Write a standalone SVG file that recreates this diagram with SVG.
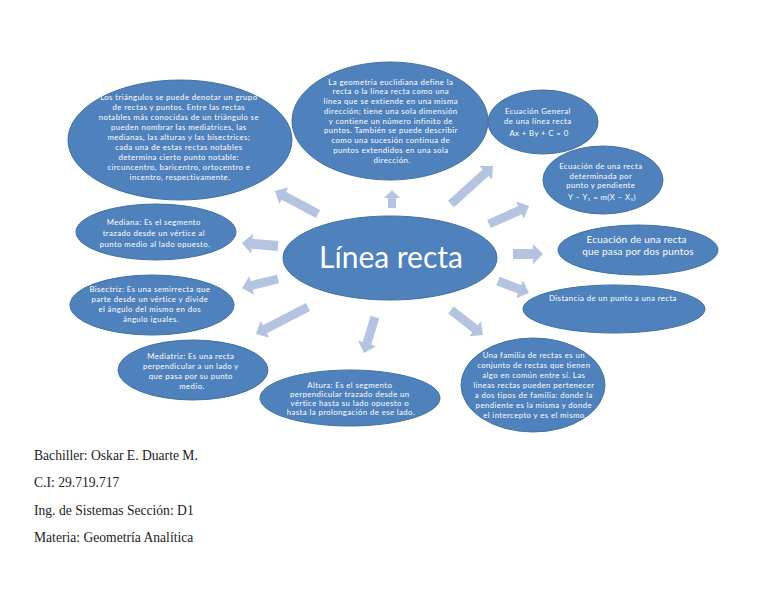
<svg xmlns="http://www.w3.org/2000/svg" width="768" height="594" viewBox="0 0 768 594">
<style>
.n{fill:#4F81BD;stroke:#41719C;stroke-width:1}
.t{font-family:Lato,"Open Sans","Liberation Sans",sans-serif;fill:#fff;text-anchor:middle;font-size:7.8px;letter-spacing:0.4px}
.m{font-size:10px;letter-spacing:0.2px}
.a{fill:#B4C4E0}
.b{font-family:"Liberation Serif","Times New Roman",serif;font-size:13.6px;fill:#222}
</style>
<rect width="768" height="594" fill="#fff"/>
<g id="connectors">
<polygon class="a" transform="translate(318,214) rotate(208.1)" points="0,-4.5 38.8,-4.5 38.8,-9.5 48.8,0 38.8,9.5 38.8,4.5 0,4.5"/>
<polygon class="a" transform="translate(392,208) rotate(-90)" points="0,-4 10,-4 10,-8 18,0 10,8 10,4 0,4"/>
<polygon class="a" transform="translate(451,204) rotate(-42.1)" points="0,-4.5 46.6,-4.5 46.6,-9.5 56.6,0 46.6,9.5 46.6,4.5 0,4.5"/>
<polygon class="a" transform="translate(489,224) rotate(-24.2)" points="0,-4.5 33.9,-4.5 33.9,-9.5 43.9,0 33.9,9.5 33.9,4.5 0,4.5"/>
<polygon class="a" transform="translate(513,254) rotate(0)" points="0,-5 20,-5 20,-10 30,0 20,10 20,5 0,5"/>
<polygon class="a" transform="translate(498,281) rotate(21.2)" points="0,-4.5 23.2,-4.5 23.2,-9.5 33.2,0 23.2,9.5 23.2,4.5 0,4.5"/>
<polygon class="a" transform="translate(451,310) rotate(38)" points="0,-4.5 30.6,-4.5 30.6,-9.5 40.6,0 30.6,9.5 30.6,4.5 0,4.5"/>
<polygon class="a" transform="translate(375,317) rotate(107)" points="0,-4.5 27.6,-4.5 27.6,-9.5 37.6,0 27.6,9.5 27.6,4.5 0,4.5"/>
<polygon class="a" transform="translate(308,307) rotate(152.6)" points="0,-4.5 48.6,-4.5 48.6,-9.5 58.6,0 48.6,9.5 48.6,4.5 0,4.5"/>
<polygon class="a" transform="translate(278,279) rotate(166)" points="0,-4.5 27.1,-4.5 27.1,-9.5 37.1,0 27.1,9.5 27.1,4.5 0,4.5"/>
<polygon class="a" transform="translate(278,246) rotate(184.8)" points="0,-5 26.1,-5 26.1,-10 36.1,0 26.1,10 26.1,5 0,5"/>
</g>
<g id="center">
<ellipse class="n" cx="390" cy="258" rx="107" ry="42"/>
<text class="t" x="391" y="268" style="font-size:30px;letter-spacing:0">Línea recta</text>
</g>
<g id="triangulos">
<ellipse class="n" cx="180" cy="140" rx="112" ry="60"/>
<text class="t">
<tspan x="180" y="99.5">Los triángulos se puede denotar un grupo</tspan>
<tspan x="180" y="109.5">de rectas y puntos. Entre las rectas</tspan>
<tspan x="180" y="119.5">notables más conocidas de un triángulo se</tspan>
<tspan x="180" y="129.5">pueden nombrar las mediatrices, las</tspan>
<tspan x="180" y="139.5">medianas, las alturas y las bisectrices;</tspan>
<tspan x="180" y="149.5">cada una de estas rectas notables</tspan>
<tspan x="180" y="159.5">determina cierto punto notable:</tspan>
<tspan x="180" y="169.5">circuncentro, baricentro, ortocentro e</tspan>
<tspan x="180" y="179.5">incentro, respectivamente.</tspan>
</text>
</g>
<g id="geometria">
<ellipse class="n" cx="390" cy="121" rx="98" ry="59"/>
<text class="t">
<tspan x="392" y="84.5">La geometría euclidiana define la</tspan>
<tspan x="392" y="94.2">recta o la línea recta como una</tspan>
<tspan x="392" y="104">línea que se extiende en una misma</tspan>
<tspan x="392" y="113.7">dirección; tiene una sola dimensión</tspan>
<tspan x="392" y="123.5">y contiene un número infinito de</tspan>
<tspan x="392" y="133.2">puntos. También se puede describir</tspan>
<tspan x="392" y="143">como una sucesión continua de</tspan>
<tspan x="392" y="152.7">puntos extendidos en una sola</tspan>
<tspan x="392" y="162.5">dirección.</tspan>
</text>
</g>
<g id="general">
<ellipse class="n" cx="543" cy="122" rx="55" ry="32"/>
<text class="t">
<tspan x="539" y="113.5">Ecuación General</tspan>
<tspan x="539" y="123.5">de una línea recta</tspan>
<tspan x="539" y="135.5">Ax + By + C = 0</tspan>
</text>
</g>
<g id="pendiente">
<ellipse class="n" cx="603" cy="180" rx="60" ry="34"/>
<text class="t">
<tspan x="602" y="168.5">Ecuación de una recta</tspan>
<tspan x="602" y="178.5">determinada por</tspan>
<tspan x="602" y="188">punto y pendiente</tspan>
<tspan x="602" y="199.5">Y – Y₁ = m(X – X₁)</tspan>
</text>
</g>
<g id="dospuntos">
<ellipse class="n" cx="638" cy="250" rx="80" ry="25"/>
<text class="t m">
<tspan x="638" y="242.5">Ecuación de una recta</tspan>
<tspan x="638" y="254.5">que pasa por dos puntos</tspan>
</text>
</g>
<g id="distancia">
<ellipse class="n" cx="614" cy="309" rx="91" ry="24"/>
<text class="t" x="613" y="300.5">Distancia de un punto a una recta</text>
</g>
<g id="mediana">
<ellipse class="n" cx="156" cy="232" rx="80" ry="28"/>
<text class="t">
<tspan x="155" y="224.5">Mediana: Es el segmento</tspan>
<tspan x="155" y="235.5">trazado desde un vértice al</tspan>
<tspan x="155" y="246.5">punto medio al lado opuesto.</tspan>
</text>
</g>
<g id="bisectriz">
<ellipse class="n" cx="152" cy="305" rx="82" ry="30"/>
<text class="t">
<tspan x="151" y="291.5">Bisectriz: Es una semirrecta que</tspan>
<tspan x="151" y="301.5">parte desde un vértice y divide</tspan>
<tspan x="151" y="311.5">el ángulo del mismo en dos</tspan>
<tspan x="151" y="322">ángulo iguales.</tspan>
</text>
</g>
<g id="mediatriz">
<ellipse class="n" cx="193" cy="370" rx="75" ry="30"/>
<text class="t">
<tspan x="192" y="358.5">Mediatriz: Es una recta</tspan>
<tspan x="192" y="368.5">perpendicular a un lado y</tspan>
<tspan x="192" y="378.5">que pasa por su punto</tspan>
<tspan x="192" y="388.5">medio.</tspan>
</text>
</g>
<g id="altura">
<ellipse class="n" cx="350" cy="398" rx="90" ry="28"/>
<text class="t">
<tspan x="351" y="387.5">Altura: Es el segmento</tspan>
<tspan x="351" y="396.5">perpendicular trazado desde un</tspan>
<tspan x="351" y="405.5">vértice hasta su lado opuesto o</tspan>
<tspan x="351" y="414.5">hasta la prolongación de ese lado.</tspan>
</text>
</g>
<g id="familia">
<ellipse class="n" cx="533" cy="385" rx="72" ry="47"/>
<text class="t">
<tspan x="535" y="357.5">Una familia de rectas es un</tspan>
<tspan x="535" y="367.5">conjunto de rectas que tienen</tspan>
<tspan x="535" y="377.5">algo en común entre sí. Las</tspan>
<tspan x="535" y="387.5">líneas rectas pueden pertenecer</tspan>
<tspan x="535" y="397.5">a dos tipos de familia: donde la</tspan>
<tspan x="535" y="407.5">pendiente es la misma y donde</tspan>
<tspan x="535" y="417.5">el intercepto y es el mismo.</tspan>
</text>
</g>
<g id="autor">
<text class="b" x="34" y="460">Bachiller: Oskar E. Duarte M.</text>
<text class="b" x="34" y="487">C.I: 29.719.717</text>
<text class="b" x="34" y="515">Ing. de Sistemas Sección: D1</text>
<text class="b" x="34" y="542">Materia: Geometría Analítica</text>
</g>
</svg>
